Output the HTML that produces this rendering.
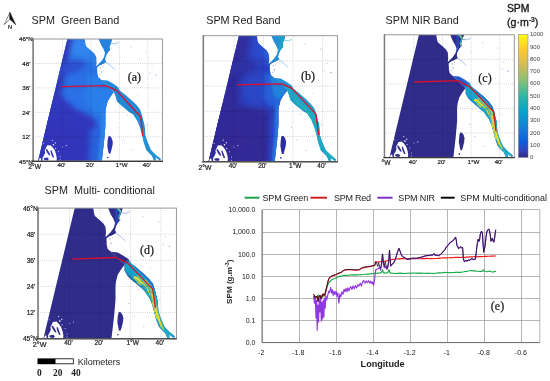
<!DOCTYPE html>
<html lang="en"><head><meta charset="utf-8"><title>SPM maps</title>
<style>
html,body{margin:0;padding:0;background:#fff;}
body{width:550px;height:381px;overflow:hidden;font-family:"Liberation Sans",Arial,sans-serif;}
svg{display:block;}
text{font-family:"Liberation Sans",Arial,sans-serif;fill:#222;}
.ttl{font-size:10.8px;fill:#222;}
.tk{fill:#1a1a1a;stroke:#1a1a1a;stroke-width:.2;}
.gl{stroke:#000;stroke-opacity:.42;stroke-width:.55;stroke-dasharray:.7 1.4;}
.lab{font-family:"Liberation Serif","DejaVu Serif",serif;font-size:12px;fill:#111;stroke:#111;stroke-width:.2;}
.cb{font-size:6px;fill:#444;}
.cg{stroke:#969696;stroke-width:.7;}
.ax{font-size:7px;fill:#161616;}
.lg{font-size:9px;fill:#222;}
</style></head><body>
<svg width="550" height="381" viewBox="0 0 550 381">
<defs>
<filter id="b05" x="-20%" y="-20%" width="140%" height="140%"><feGaussianBlur stdDeviation="0.4"/></filter>
<filter id="b1" x="-20%" y="-20%" width="140%" height="140%"><feGaussianBlur stdDeviation="0.8"/></filter>
<filter id="b3" x="-50%" y="-50%" width="200%" height="200%"><feGaussianBlur stdDeviation="2.5"/></filter>
<filter id="b4" x="-50%" y="-50%" width="200%" height="200%"><feGaussianBlur stdDeviation="4"/></filter>
<filter id="b5" x="-50%" y="-50%" width="200%" height="200%"><feGaussianBlur stdDeviation="5.5"/></filter>
<linearGradient id="parula" x1="0" y1="1" x2="0" y2="0">
<stop offset="0" stop-color="#352a87"/><stop offset=".06" stop-color="#3145bc"/><stop offset=".125" stop-color="#0f5cdd"/>
<stop offset=".25" stop-color="#1481d6"/><stop offset=".375" stop-color="#06a4ca"/><stop offset=".5" stop-color="#2eb7a4"/>
<stop offset=".625" stop-color="#87bf77"/><stop offset=".75" stop-color="#d1bb59"/><stop offset=".875" stop-color="#fec832"/>
<stop offset="1" stop-color="#f9fb0e"/></linearGradient>
</defs>
<rect width="550" height="381" fill="#fff"/>
<g id="north">
<path d="M9.9 12.6 L4.2 24.6 L9.9 19.3 Z" fill="#fff" stroke="#222" stroke-width=".55" stroke-linejoin="miter"/>
<path d="M9.9 12.4 L15.8 24.7 L9.9 19.3 Z" fill="#111" stroke="#111" stroke-width=".5"/>
<text x="9.9" y="29.1" font-size="5.6" text-anchor="middle" fill="#222" stroke="#222" stroke-width=".2">N</text>
</g>
<text x="31.6" y="24.3" class="ttl" xml:space="preserve" style="white-space:pre">SPM  Green Band</text>
<text x="206.2" y="24.3" class="ttl">SPM Red Band</text>
<text x="385.6" y="24.3" class="ttl">SPM NIR Band</text>
<text x="44.6" y="193.8" class="ttl" xml:space="preserve" style="white-space:pre">SPM  Multi- conditional</text>
<g id="map-a">
<clipPath id="oc-a"><path d="M67.4 39.0 L111.9 39.0 L111.9 40.0 L110.9 43.0 L109.4 46.9 L109.9 49.9 L107.4 52.8 L105.5 56.7 L105.0 59.7 L106.0 62.1 L102.5 64.1 L99.1 65.6 L97.1 67.5 L97.3 73.5 L98.2 77.3 L101.3 79.9 L113.9 92.0 L110.8 96.2 L107.6 101.4 L106.0 107.7 L105.5 112.0 L105.5 125.0 L104.2 140.0 L101.8 161.0 L38.1 161.0Z"/></clipPath>
<clipPath id="fr-a"><rect x="33.0" y="39.0" width="129.4" height="122.0"/></clipPath>
<rect x="33.0" y="39.0" width="129.4" height="122.0" fill="#fff"/>
<g clip-path="url(#fr-a)">
<g clip-path="url(#oc-a)">
<rect x="33.0" y="39.0" width="129.4" height="122.0" fill="#2b70e6"/>
<path d="M64.0 36.0 L100.0 36.0 L100.0 62.0 L88.0 60.0 L75.0 58.0 L60.0 58.0Z" fill="#3284ee" opacity="1" filter="url(#b4)"/>
<path d="M67.0 36.0 L73.0 36.0 L64.0 80.0 L57.0 110.0 L30.0 165.0 L30.0 100.0Z" fill="#3238b6" opacity="1" filter="url(#b3)"/>
<path d="M60.0 62.0 L72.0 60.0 L84.0 61.0 L86.0 66.0 L76.0 72.0 L62.0 76.0 L56.0 78.0Z" fill="#2f4ccc" opacity="0.9" filter="url(#b3)"/>
<path d="M40.0 95.0 L60.0 95.0 L75.7 109.0 L91.5 116.5 L97.0 124.0 L96.0 135.0 L93.0 165.0 L30.0 165.0Z" fill="#3038be" opacity="1" filter="url(#b3)"/>
<path d="M40.0 116.0 L66.0 118.0 L84.0 130.0 L84.0 165.0 L34.0 165.0Z" fill="#3034b8" opacity="0.8" filter="url(#b4)"/>
<path d="M90.0 128.0 L106.0 126.0 L106.0 165.0 L88.0 165.0Z" fill="#2c62dc" opacity="0.9" filter="url(#b3)"/>
<path d="M100.5 100.0 L107.0 100.0 L107.0 125.0 L104.0 165.0 L97.5 165.0 L100.5 130.0Z" fill="#2a86e6" opacity="0.95" filter="url(#b1)"/>
<path d="M88.0 74.0 L104.0 76.0 L114.0 92.0 L106.0 110.0 L96.0 116.0 L84.0 100.0Z" fill="#2c80ea" opacity="0.95" filter="url(#b3)"/>
<path d="M94.0 40.0 L100.0 40.0 L100.0 66.0 L96.0 70.0 L92.0 56.0Z" fill="#2c84ea" opacity="0.8" filter="url(#b3)"/>
</g>
<clipPath id="pt-a"><path d="M98.6 39.0 L111.9 39.0 L111.9 40.0 L110.9 43.0 L109.4 46.9 L109.9 49.9 L107.4 52.8 L105.5 56.7 L105.0 59.7 L106.0 62.1 L102.5 64.1 L99.1 65.6 L96.2 66.4 L98.1 64.4 L101.1 61.4 L104.0 57.2 L105.0 52.8 L103.5 48.9 L101.1 44.9Z"/></clipPath>
<path d="M98.6 39.0 L111.9 39.0 L111.9 40.0 L110.9 43.0 L109.4 46.9 L109.9 49.9 L107.4 52.8 L105.5 56.7 L105.0 59.7 L106.0 62.1 L102.5 64.1 L99.1 65.6 L96.2 66.4 L98.1 64.4 L101.1 61.4 L104.0 57.2 L105.0 52.8 L103.5 48.9 L101.1 44.9Z" fill="#2482de"/>
<path d="M110.9 43.4 L114.8 44.0 L118.7 42.5" fill="none" stroke="#5aa0e4" stroke-width=".7" opacity=".9"/>
<path d="M106.0 62.1 L110.9 66.1 L114.8 69.7" fill="none" stroke="#5aa0e4" stroke-width=".7" opacity=".8"/>
<path d="M84.7 39.0 L85.6 44.5 L86.3 46.4 L90.3 49.9 L94.2 53.3 L96.2 56.7 L96.6 61.6 L96.2 66.2 L98.1 64.4 L101.1 61.4 L104.0 57.2 L105.0 52.8 L103.5 48.9 L101.1 44.9 L98.6 39.0Z" fill="#fff"/>
<clipPath id="es-a"><path d="M101.3 79.9 L107.6 80.4 L112.9 83.6 L117.6 86.7 L119.7 90.4 L125.5 95.1 L131.8 100.4 L137.0 105.6 L140.2 109.8 L141.9 115.3 L144.6 125.4 L145.4 135.5 L147.5 142.0 L151.0 150.0 L156.0 155.0 L161.0 159.0 L160.0 160.6 L155.5 157.3 L156.0 160.5 L154.0 160.5 L152.0 156.0 L146.3 150.0 L143.6 142.0 L142.3 135.5 L140.3 128.3 L137.4 121.0 L133.0 114.2 L129.0 112.0 L126.5 109.8 L121.3 105.6 L117.0 101.4 L115.5 96.2 L113.9 92.0Z"/></clipPath>
<path d="M101.3 79.9 L107.6 80.4 L112.9 83.6 L117.6 86.7 L119.7 90.4 L125.5 95.1 L131.8 100.4 L137.0 105.6 L140.2 109.8 L141.9 115.3 L144.6 125.4 L145.4 135.5 L147.5 142.0 L151.0 150.0 L156.0 155.0 L161.0 159.0 L160.0 160.6 L155.5 157.3 L156.0 160.5 L154.0 160.5 L152.0 156.0 L146.3 150.0 L143.6 142.0 L142.3 135.5 L140.3 128.3 L137.4 121.0 L133.0 114.2 L129.0 112.0 L126.5 109.8 L121.3 105.6 L117.0 101.4 L115.5 96.2 L113.9 92.0Z" fill="#2388d6"/>
<g clip-path="url(#es-a)">
<path d="M136.5 113.0 L139.5 119.5 L141.6 127.0 L143.6 135.5 L145.6 142.0 L148.6 150.0 L154.0 155.5 L159.5 159.5" fill="none" stroke="#27a0da" stroke-width="2.2" stroke-linecap="round" stroke-linejoin="round" opacity="0.8" filter="url(#b1)"/>
<path d="M111.5 84.5 L118.2 89.7 L122.8 95.3 L128.2 100.7 L133.8 105.8 L138.6 111.7 L141.8 118.5" fill="none" stroke="#2a94de" stroke-width="1.2" stroke-linecap="round" stroke-linejoin="round" opacity="0.7" filter="url(#b05)"/>
</g>
<path d="M108.8 136.0 L110.6 136.6 L112.0 139.0 L112.8 142.0 L112.4 146.0 L111.4 150.0 L110.4 153.6 L108.8 153.8 L108.0 150.0 L107.3 146.0 L107.6 141.0 L108.0 138.0Z" fill="#2c32b4"/>
<circle cx="107.7" cy="157.5" r=".8" fill="#2c32b4"/>
<path d="M47.0 145.6 L50.4 145.2 L52.7 147.5 L54.9 150.6 L56.1 154.4 L56.8 158.2 L56.5 161.1 L42.8 161.1 L42.4 158.2 L43.9 155.5 L45.1 152.9 L44.7 150.2 L46.2 147.5Z M45.5 149.4 L47.0 149.1 L49.3 152.5 L50.4 155.5 L48.9 155.2 L47.0 152.5Z M50.4 150.6 L51.5 150.2 L52.7 153.6 L54.2 157.5 L52.7 157.5 L51.1 154.0Z M43.6 158.2 L47.4 157.5 L48.9 159.0 L47.7 160.5 L44.3 160.1Z" fill="#fff" fill-rule="evenodd"/>
<path d="M39.4 158.4 L40.8 158.0 L41.4 160.9 L38.8 160.9Z" fill="#fff"/>
<path d="M52.6 144.2 L53.8 144.0 L54.4 145.2 L53.2 145.6Z" fill="#fff"/>
<circle cx="52.3" cy="140.3" r="0.6" fill="#fff" opacity=".85"/>
<circle cx="55.3" cy="142.9" r="0.7" fill="#fff" opacity=".85"/>
<circle cx="66.3" cy="145.6" r="0.6" fill="#fff" opacity=".85"/>
<circle cx="62.5" cy="146.8" r="0.5" fill="#fff" opacity=".85"/>
<circle cx="55.6" cy="148.3" r="0.6" fill="#fff" opacity=".85"/>
<circle cx="60.2" cy="156.7" r="0.5" fill="#fff" opacity=".85"/>
<circle cx="60.2" cy="159.7" r="0.5" fill="#fff" opacity=".85"/>
<circle cx="43.5" cy="143.4" r="0.5" fill="#fff" opacity=".85"/>
<circle cx="58.4" cy="151.6" r="0.5" fill="#fff" opacity=".85"/>
<circle cx="100.5" cy="68.0" r="0.7" fill="#6a8ae0" opacity=".7"/>
<circle cx="101.5" cy="72.0" r="0.7" fill="#6a8ae0" opacity=".7"/>
<circle cx="99.8" cy="74.5" r="0.5" fill="#6a8ae0" opacity=".7"/>
<circle cx="103.0" cy="66.5" r="0.5" fill="#6a8ae0" opacity=".7"/>
<circle cx="131.0" cy="47.0" r="0.5" fill="#6a8ae0" opacity=".7"/>
<circle cx="146.0" cy="52.0" r="0.5" fill="#6a8ae0" opacity=".7"/>
<circle cx="152.0" cy="66.0" r="0.5" fill="#6a8ae0" opacity=".7"/>
<circle cx="156.0" cy="75.0" r="0.7" fill="#6a8ae0" opacity=".7"/>
<circle cx="150.0" cy="73.0" r="0.5" fill="#6a8ae0" opacity=".7"/>
<circle cx="120.0" cy="57.0" r="0.4" fill="#6a8ae0" opacity=".7"/>
<circle cx="127.0" cy="115.0" r="0.5" fill="#6a8ae0" opacity=".7"/>
<circle cx="118.0" cy="128.0" r="0.5" fill="#6a8ae0" opacity=".7"/>
<circle cx="123.0" cy="140.0" r="0.5" fill="#6a8ae0" opacity=".7"/>
<circle cx="132.0" cy="150.0" r="0.5" fill="#6a8ae0" opacity=".7"/>
<circle cx="116.0" cy="110.0" r="0.4" fill="#6a8ae0" opacity=".7"/>
<circle cx="147.0" cy="125.0" r="0.5" fill="#6a8ae0" opacity=".7"/>
<circle cx="150.0" cy="118.0" r="0.4" fill="#6a8ae0" opacity=".7"/>
<circle cx="138.0" cy="95.0" r="0.4" fill="#6a8ae0" opacity=".7"/>
<circle cx="144.0" cy="82.0" r="0.4" fill="#6a8ae0" opacity=".7"/>
</g>
<line x1="62.5" y1="39.0" x2="62.5" y2="161.0" class="gl"/>
<line x1="91.0" y1="39.0" x2="91.0" y2="161.0" class="gl"/>
<line x1="119.4" y1="39.0" x2="119.4" y2="161.0" class="gl"/>
<line x1="147.8" y1="39.0" x2="147.8" y2="161.0" class="gl"/>
<line x1="33.0" y1="63.5" x2="162.4" y2="63.5" class="gl"/>
<line x1="33.0" y1="87.9" x2="162.4" y2="87.9" class="gl"/>
<line x1="33.0" y1="112.3" x2="162.4" y2="112.3" class="gl"/>
<line x1="33.0" y1="136.8" x2="162.4" y2="136.8" class="gl"/>
<path d="M61.3 86.7 L105.5 85.7 L116.5 90.4 L140.8 117.0 L142.7 136.3" fill="none" stroke="#d8102e" stroke-width="1.3" stroke-linejoin="round"/>
<rect x="33.0" y="39.0" width="129.4" height="122.0" fill="none" stroke="#8c8c8c" stroke-width=".9"/>
<line x1="33.2" y1="38.5" x2="33.2" y2="161.8" stroke="#7c7c7c" stroke-width="1.4"/>
<line x1="32.1" y1="161.3" x2="162.9" y2="161.3" stroke="#3a3a3a" stroke-width="1.2"/>
<text x="32.8" y="41.2" class="tk" font-size="6.2" text-anchor="end">46°N</text>
<text x="30.4" y="65.7" class="tk" font-size="6.2" text-anchor="end">48'</text>
<text x="30.4" y="90.1" class="tk" font-size="6.2" text-anchor="end">36'</text>
<text x="30.4" y="114.6" class="tk" font-size="6.2" text-anchor="end">24'</text>
<text x="30.4" y="139.0" class="tk" font-size="6.2" text-anchor="end">12'</text>
<text x="32.8" y="163.5" class="tk" font-size="6.2" text-anchor="end">45°N</text>
<text x="34.7" y="168.7" class="tk" font-size="6.7" text-anchor="middle">2°W</text>
<text x="61.5" y="167.2" class="tk" font-size="6.2" text-anchor="middle">40'</text>
<text x="90.0" y="167.2" class="tk" font-size="6.2" text-anchor="middle">20'</text>
<text x="121.7" y="167.2" class="tk" font-size="6.2" text-anchor="middle">1°W</text>
<text x="146.8" y="167.2" class="tk" font-size="6.2" text-anchor="middle">40'</text>
</g>
<g id="map-b">
<clipPath id="oc-b"><path d="M238.9 35.7 L285.1 35.7 L285.1 36.7 L284.1 39.8 L282.6 43.8 L283.1 46.9 L280.5 49.9 L278.5 54.0 L278.0 57.0 L279.0 59.5 L275.4 61.6 L271.9 63.1 L269.8 65.1 L270.0 71.3 L270.9 75.2 L274.1 77.9 L287.2 90.4 L284.0 94.7 L280.7 100.0 L279.0 106.5 L278.5 111.0 L278.5 124.4 L277.2 139.8 L274.7 161.5 L208.5 161.5Z"/></clipPath>
<clipPath id="fr-b"><rect x="203.2" y="35.7" width="134.4" height="125.8"/></clipPath>
<rect x="203.2" y="35.7" width="134.4" height="125.8" fill="#fff"/>
<g clip-path="url(#fr-b)">
<g clip-path="url(#oc-b)">
<rect x="203.2" y="35.7" width="134.4" height="125.8" fill="#2c40bc"/>
<path d="M239.6 32.6 L272.8 32.6 L272.8 59.4 L260.3 59.4 L246.8 57.4 L235.4 57.4Z" fill="#2c4ccc" opacity="1" filter="url(#b4)"/>
<path d="M238.5 32.6 L252.0 32.6 L243.7 78.0 L239.6 108.9 L200.1 165.6 L200.1 98.6Z" fill="#302c9a" opacity="1" filter="url(#b4)"/>
<path d="M227.1 61.5 L243.7 60.4 L254.1 62.5 L256.2 67.7 L247.9 72.8 L233.3 75.9 L222.9 78.0Z" fill="#2f30a4" opacity="0.95" filter="url(#b3)"/>
<path d="M241.6 78.0 L262.4 75.9 L272.8 80.0 L272.8 102.7 L256.2 104.8 L241.6 98.6Z" fill="#2b4ac8" opacity="0.9" filter="url(#b4)"/>
<path d="M210.5 106.8 L226.1 104.8 L249.4 106.8 L268.6 111.0 L271.8 134.7 L269.7 165.6 L200.1 165.6Z" fill="#302c98" opacity="1" filter="url(#b3)"/>
<path d="M210.5 119.2 L241.6 117.2 L264.5 125.4 L264.5 165.6 L204.2 165.6Z" fill="#302b96" opacity="0.9" filter="url(#b4)"/>
<path d="M269.7 119.2 L279.0 117.2 L279.0 165.6 L268.6 165.6Z" fill="#2b46c4" opacity="0.9" filter="url(#b3)"/>
<path d="M274.7 98.6 L280.1 98.6 L280.1 124.4 L276.9 165.6 L271.8 165.6 L274.7 129.5Z" fill="#2878e0" opacity="0.95" filter="url(#b1)"/>
<path d="M265.5 71.8 L276.9 73.9 L287.3 90.4 L279.0 104.8 L270.7 106.8 L263.4 96.5Z" fill="#2664da" opacity="0.95" filter="url(#b3)"/>
<path d="M269.7 73.9 L276.9 75.9 L287.3 90.4 L280.1 99.6 L273.8 96.5Z" fill="#2288dc" opacity="0.9" filter="url(#b1)"/>
<path d="M264.5 36.7 L272.8 36.7 L272.8 63.5 L268.6 67.7 L263.4 53.2Z" fill="#2a64dc" opacity="0.9" filter="url(#b3)"/>
</g>
<clipPath id="pt-b"><path d="M271.3 35.7 L285.1 35.7 L285.1 36.7 L284.1 39.8 L282.6 43.8 L283.1 46.9 L280.5 49.9 L278.5 54.0 L278.0 57.0 L279.0 59.5 L275.4 61.6 L271.9 63.1 L268.8 64.0 L270.8 61.9 L273.9 58.8 L276.9 54.5 L278.0 49.9 L276.4 45.9 L273.9 41.8Z"/></clipPath>
<path d="M271.3 35.7 L285.1 35.7 L285.1 36.7 L284.1 39.8 L282.6 43.8 L283.1 46.9 L280.5 49.9 L278.5 54.0 L278.0 57.0 L279.0 59.5 L275.4 61.6 L271.9 63.1 L268.8 64.0 L270.8 61.9 L273.9 58.8 L276.9 54.5 L278.0 49.9 L276.4 45.9 L273.9 41.8Z" fill="#2290d4"/>
<g clip-path="url(#pt-b)">
<path d="M281.1 35.7 L283.2 39.8 L281.7 43.9 L281.9 47.0 L279.4 50.7" fill="none" stroke="#1fa6c6" stroke-width="4.5" stroke-linecap="round" stroke-linejoin="round" opacity="0.95" filter="url(#b1)"/>
</g>
<path d="M284.1 40.2 L288.2 40.9 L292.2 39.3" fill="none" stroke="#4cb4d4" stroke-width=".7" opacity=".9"/>
<path d="M279.0 59.5 L284.1 63.6 L288.2 67.4" fill="none" stroke="#4cb4d4" stroke-width=".7" opacity=".8"/>
<path d="M256.9 35.7 L257.8 41.4 L258.6 43.3 L262.7 46.9 L266.8 50.4 L268.8 54.0 L269.3 59.0 L268.8 63.7 L270.8 61.9 L273.9 58.8 L276.9 54.5 L278.0 49.9 L276.4 45.9 L273.9 41.8 L271.3 35.7Z" fill="#fff"/>
<clipPath id="es-b"><path d="M274.1 77.9 L280.7 78.4 L286.2 81.7 L291.1 84.9 L293.3 88.7 L299.3 93.5 L305.8 99.0 L311.2 104.4 L314.5 108.7 L316.3 114.4 L319.1 124.8 L319.9 135.2 L322.1 141.9 L325.8 150.2 L331.0 155.3 L336.1 159.4 L335.1 161.1 L330.4 157.7 L331.0 161.0 L328.9 161.0 L326.8 156.3 L320.9 150.2 L318.1 141.9 L316.7 135.2 L314.6 127.8 L311.6 120.3 L307.1 113.2 L302.9 111.0 L300.3 108.7 L294.9 104.4 L290.4 100.0 L288.9 94.7 L287.2 90.4Z"/></clipPath>
<path d="M274.1 77.9 L280.7 78.4 L286.2 81.7 L291.1 84.9 L293.3 88.7 L299.3 93.5 L305.8 99.0 L311.2 104.4 L314.5 108.7 L316.3 114.4 L319.1 124.8 L319.9 135.2 L322.1 141.9 L325.8 150.2 L331.0 155.3 L336.1 159.4 L335.1 161.1 L330.4 157.7 L331.0 161.0 L328.9 161.0 L326.8 156.3 L320.9 150.2 L318.1 141.9 L316.7 135.2 L314.6 127.8 L311.6 120.3 L307.1 113.2 L302.9 111.0 L300.3 108.7 L294.9 104.4 L290.4 100.0 L288.9 94.7 L287.2 90.4Z" fill="#2390d6"/>
<g clip-path="url(#es-b)">
<path d="M289.9 89.8 L294.6 95.5 L300.3 101.2 L306.0 106.3 L310.7 112.0 L313.8 118.7 L316.0 126.4 L318.1 135.2 L320.2 141.9 L323.3 150.2 L328.9 155.8 L334.6 160.0" fill="none" stroke="#21a4c6" stroke-width="12.0" stroke-linecap="round" stroke-linejoin="round" opacity="0.95" filter="url(#b1)"/>
<path d="M306.0 106.3 L310.7 112.0 L313.8 118.7 L316.0 126.4 L318.1 135.2 L320.2 141.9 L323.3 150.2 L328.9 155.8 L334.6 160.0" fill="none" stroke="#22b0bc" stroke-width="3.0" stroke-linecap="round" stroke-linejoin="round" opacity="0.9" filter="url(#b1)"/>
<path d="M292.8 97.3 L298.5 103.0 L304.1 108.1 L308.5 113.4 L311.5 119.8" fill="none" stroke="#2cb8b4" stroke-width="1.4" stroke-linecap="round" stroke-linejoin="round" opacity="0.9" filter="url(#b05)"/>
</g>
<path d="M281.9 135.7 L283.8 136.3 L285.3 138.8 L286.1 141.9 L285.7 146.0 L284.6 150.2 L283.6 153.9 L281.9 154.1 L281.1 150.2 L280.4 146.0 L280.7 140.9 L281.1 137.8Z" fill="#2b2ca4"/>
<circle cx="280.8" cy="157.9" r=".8" fill="#2b2ca4"/>
<path d="M217.7 145.6 L221.3 145.2 L223.7 147.6 L225.9 150.8 L227.2 154.7 L227.9 158.6 L227.6 161.6 L213.4 161.6 L213.0 158.6 L214.5 155.8 L215.8 153.1 L215.4 150.4 L216.9 147.6Z M216.2 149.5 L217.7 149.2 L220.1 152.7 L221.3 155.8 L219.7 155.5 L217.7 152.7Z M221.3 150.8 L222.4 150.4 L223.7 153.9 L225.2 157.9 L223.7 157.9 L222.0 154.3Z M214.2 158.6 L218.2 157.9 L219.7 159.4 L218.5 161.0 L214.9 160.6Z" fill="#fff" fill-rule="evenodd"/>
<path d="M209.8 158.8 L211.3 158.4 L211.9 161.4 L209.2 161.4Z" fill="#fff"/>
<path d="M223.6 144.2 L224.8 144.0 L225.4 145.2 L224.2 145.6Z" fill="#fff"/>
<circle cx="223.2" cy="140.2" r="0.6" fill="#fff" opacity=".85"/>
<circle cx="226.4" cy="142.8" r="0.7" fill="#fff" opacity=".85"/>
<circle cx="237.8" cy="145.6" r="0.6" fill="#fff" opacity=".85"/>
<circle cx="233.8" cy="146.9" r="0.5" fill="#fff" opacity=".85"/>
<circle cx="226.7" cy="148.4" r="0.6" fill="#fff" opacity=".85"/>
<circle cx="231.5" cy="157.1" r="0.5" fill="#fff" opacity=".85"/>
<circle cx="231.5" cy="160.2" r="0.5" fill="#fff" opacity=".85"/>
<circle cx="214.1" cy="143.4" r="0.5" fill="#fff" opacity=".85"/>
<circle cx="229.6" cy="151.8" r="0.5" fill="#fff" opacity=".85"/>
<circle cx="273.3" cy="65.6" r="0.7" fill="#5a78d8" opacity=".7"/>
<circle cx="274.3" cy="69.7" r="0.7" fill="#5a78d8" opacity=".7"/>
<circle cx="272.6" cy="72.3" r="0.5" fill="#5a78d8" opacity=".7"/>
<circle cx="275.9" cy="64.1" r="0.5" fill="#5a78d8" opacity=".7"/>
<circle cx="305.0" cy="43.9" r="0.5" fill="#5a78d8" opacity=".7"/>
<circle cx="320.6" cy="49.1" r="0.5" fill="#5a78d8" opacity=".7"/>
<circle cx="326.8" cy="63.5" r="0.5" fill="#5a78d8" opacity=".7"/>
<circle cx="331.0" cy="72.8" r="0.7" fill="#5a78d8" opacity=".7"/>
<circle cx="324.7" cy="70.8" r="0.5" fill="#5a78d8" opacity=".7"/>
<circle cx="293.6" cy="54.3" r="0.4" fill="#5a78d8" opacity=".7"/>
<circle cx="300.8" cy="114.1" r="0.5" fill="#5a78d8" opacity=".7"/>
<circle cx="291.5" cy="127.5" r="0.5" fill="#5a78d8" opacity=".7"/>
<circle cx="296.7" cy="139.8" r="0.5" fill="#5a78d8" opacity=".7"/>
<circle cx="306.0" cy="150.2" r="0.5" fill="#5a78d8" opacity=".7"/>
<circle cx="289.4" cy="108.9" r="0.4" fill="#5a78d8" opacity=".7"/>
<circle cx="321.6" cy="124.4" r="0.5" fill="#5a78d8" opacity=".7"/>
<circle cx="324.7" cy="117.2" r="0.4" fill="#5a78d8" opacity=".7"/>
<circle cx="312.3" cy="93.4" r="0.4" fill="#5a78d8" opacity=".7"/>
<circle cx="318.5" cy="80.0" r="0.4" fill="#5a78d8" opacity=".7"/>
</g>
<line x1="233.8" y1="35.7" x2="233.8" y2="161.5" class="gl"/>
<line x1="263.4" y1="35.7" x2="263.4" y2="161.5" class="gl"/>
<line x1="292.9" y1="35.7" x2="292.9" y2="161.5" class="gl"/>
<line x1="322.5" y1="35.7" x2="322.5" y2="161.5" class="gl"/>
<line x1="203.2" y1="60.9" x2="337.6" y2="60.9" class="gl"/>
<line x1="203.2" y1="86.1" x2="337.6" y2="86.1" class="gl"/>
<line x1="203.2" y1="111.3" x2="337.6" y2="111.3" class="gl"/>
<line x1="203.2" y1="136.5" x2="337.6" y2="136.5" class="gl"/>
<path d="M237.0 84.9 L281.9 83.8 L292.0 88.4 L315.9 114.1 L318.7 135.2" fill="none" stroke="#d8102e" stroke-width="1.3" stroke-linejoin="round"/>
<rect x="203.2" y="35.7" width="134.4" height="125.8" fill="none" stroke="#8c8c8c" stroke-width=".9"/>
<line x1="203.4" y1="35.2" x2="203.4" y2="162.3" stroke="#7c7c7c" stroke-width="1.4"/>
<line x1="202.3" y1="161.8" x2="338.1" y2="161.8" stroke="#3a3a3a" stroke-width="1.2"/>
<text x="205.0" y="169.5" class="tk" font-size="6.9" text-anchor="middle">2°W</text>
<text x="232.8" y="167.9" class="tk" font-size="6.4" text-anchor="middle">40'</text>
<text x="262.4" y="167.9" class="tk" font-size="6.4" text-anchor="middle">20'</text>
<text x="295.2" y="167.9" class="tk" font-size="6.4" text-anchor="middle">1°W</text>
<text x="321.5" y="167.9" class="tk" font-size="6.4" text-anchor="middle">40'</text>
</g>
<g id="map-c">
<clipPath id="oc-c"><path d="M418.9 34.8 L463.6 34.8 L463.6 35.8 L462.6 38.8 L461.1 42.7 L461.6 45.8 L459.0 48.7 L457.1 52.6 L456.6 55.6 L457.6 58.0 L454.1 60.0 L450.7 61.5 L448.7 63.4 L448.9 69.5 L449.8 73.3 L452.9 75.9 L465.6 88.1 L462.5 92.3 L459.2 97.5 L457.6 103.8 L457.1 108.2 L457.1 121.2 L455.8 136.3 L453.4 157.4 L389.4 157.4Z"/></clipPath>
<clipPath id="fr-c"><rect x="384.3" y="34.8" width="130.0" height="122.6"/></clipPath>
<rect x="384.3" y="34.8" width="130.0" height="122.6" fill="#fff"/>
<g clip-path="url(#fr-c)">
<g clip-path="url(#oc-c)">
<rect x="384.3" y="34.8" width="130.0" height="122.6" fill="#2f2c8a"/>
</g>
<clipPath id="pt-c"><path d="M450.2 34.8 L463.6 34.8 L463.6 35.8 L462.6 38.8 L461.1 42.7 L461.6 45.8 L459.0 48.7 L457.1 52.6 L456.6 55.6 L457.6 58.0 L454.1 60.0 L450.7 61.5 L447.8 62.3 L449.7 60.3 L452.7 57.3 L455.6 53.1 L456.6 48.7 L455.1 44.7 L452.7 40.7Z"/></clipPath>
<path d="M450.2 34.8 L463.6 34.8 L463.6 35.8 L462.6 38.8 L461.1 42.7 L461.6 45.8 L459.0 48.7 L457.1 52.6 L456.6 55.6 L457.6 58.0 L454.1 60.0 L450.7 61.5 L447.8 62.3 L449.7 60.3 L452.7 57.3 L455.6 53.1 L456.6 48.7 L455.1 44.7 L452.7 40.7Z" fill="#2f2c8a"/>
<g clip-path="url(#pt-c)">
<path d="M457.1 34.8 L458.6 38.8 L458.0 42.8 L458.4 46.9 L457.2 50.9" fill="none" stroke="#2a54cc" stroke-width="2.6" stroke-linecap="round" stroke-linejoin="round" opacity="0.9" filter="url(#b1)"/>
<path d="M459.2 35.2 L462.1 38.8 L460.5 42.7 L461.1 45.9" fill="none" stroke="#1ca8c8" stroke-width="1.8" stroke-linecap="round" stroke-linejoin="round" opacity="1" filter="url(#b05)"/>
<path d="M459.8 35.2 L462.3 38.2" fill="none" stroke="#8cc870" stroke-width="1.2" stroke-linecap="round" stroke-linejoin="round" opacity="1" filter="url(#b05)"/>
<path d="M461.0 43.4 L461.3 45.3" fill="none" stroke="#e8e030" stroke-width="1.1" stroke-linecap="round" stroke-linejoin="round" opacity="1"/>
</g>
<path d="M462.6 39.1 L464.7 39.7" fill="none" stroke="#c8d840" stroke-width="0.9" stroke-linecap="round" stroke-linejoin="round" opacity="1"/>
<path d="M462.6 39.2 L466.5 39.8 L470.4 38.3" fill="none" stroke="#6a8ee0" stroke-width=".7" opacity=".9"/>
<path d="M457.6 58.0 L462.6 62.0 L466.5 65.7" fill="none" stroke="#6a8ee0" stroke-width=".7" opacity=".8"/>
<path d="M436.2 34.8 L437.1 40.3 L437.8 42.2 L441.9 45.8 L445.8 49.2 L447.8 52.6 L448.2 57.5 L447.8 62.1 L449.7 60.3 L452.7 57.3 L455.6 53.1 L456.6 48.7 L455.1 44.7 L452.7 40.7 L450.2 34.8Z" fill="#fff"/>
<clipPath id="es-c"><path d="M452.9 75.9 L459.2 76.4 L464.6 79.6 L469.3 82.7 L471.4 86.5 L477.2 91.2 L483.6 96.5 L488.8 101.7 L492.2 105.9 L494.0 111.5 L496.6 121.6 L497.4 131.8 L499.5 138.3 L503.0 146.3 L507.9 151.4 L512.9 155.4 L511.9 157.0 L507.4 153.7 L507.9 156.9 L505.9 156.9 L503.9 152.4 L497.9 146.3 L495.0 138.3 L493.4 131.8 L491.4 124.8 L489.0 119.2 L484.0 112.2 L479.7 108.6 L476.4 105.7 L472.1 102.1 L468.5 98.7 L465.7 93.7 L465.6 88.1Z"/></clipPath>
<path d="M452.9 75.9 L459.2 76.4 L464.6 79.6 L469.3 82.7 L471.4 86.5 L477.2 91.2 L483.6 96.5 L488.8 101.7 L492.2 105.9 L494.0 111.5 L496.6 121.6 L497.4 131.8 L499.5 138.3 L503.0 146.3 L507.9 151.4 L512.9 155.4 L511.9 157.0 L507.4 153.7 L507.9 156.9 L505.9 156.9 L503.9 152.4 L497.9 146.3 L495.0 138.3 L493.4 131.8 L491.4 124.8 L489.0 119.2 L484.0 112.2 L479.7 108.6 L476.4 105.7 L472.1 102.1 L468.5 98.7 L465.7 93.7 L465.6 88.1Z" fill="#2458cc"/>
<g clip-path="url(#es-c)">
<path d="M457.6 75.5 L463.8 79.6 L470.7 84.9 L475.5 90.8" fill="none" stroke="#2a9cd8" stroke-width="1.0" stroke-linecap="round" stroke-linejoin="round" opacity="0.8" filter="url(#b05)"/>
<path d="M459.3 85.6 L465.6 90.3 L469.8 95.5" fill="none" stroke="#2a9cd8" stroke-width="1.0" stroke-linecap="round" stroke-linejoin="round" opacity="0.7" filter="url(#b05)"/>
<path d="M470.4 90.3 L472.7 93.1 L478.2 98.6 L483.8 103.6 L488.3 109.2 L491.3 115.7 L493.4 123.2 L495.4 131.8 L497.4 138.3 L500.4 146.3 L505.9 151.9 L511.4 155.9" fill="none" stroke="#19a4c8" stroke-width="13.0" stroke-linecap="round" stroke-linejoin="round" opacity="1" filter="url(#b1)"/>
<path d="M476.0 89.8 L481.4 95.3 L487.1 100.4 L492.2 106.7 L495.5 113.8" fill="none" stroke="#2468d4" stroke-width="2.2" stroke-linecap="round" stroke-linejoin="round" opacity="0.9" filter="url(#b05)"/>
<path d="M475.2 100.1 L478.2 102.6 L481.2 105.3" fill="none" stroke="#f2e41c" stroke-width="2.6" stroke-linecap="round" stroke-linejoin="round" opacity="1" filter="url(#b05)"/>
<path d="M477.7 104.3 L480.7 107.0" fill="none" stroke="#b4c860" stroke-width="1.4" stroke-linecap="round" stroke-linejoin="round" opacity="0.9" filter="url(#b05)"/>
<path d="M478.4 98.5 L483.9 103.5 L488.5 109.1 L491.5 115.6" fill="none" stroke="#6cc088" stroke-width="2.4" stroke-linecap="round" stroke-linejoin="round" opacity="0.95" filter="url(#b05)"/>
<path d="M477.0 100.0 L482.4 104.9 L486.7 110.1 L489.7 116.5" fill="none" stroke="#e8dc28" stroke-width="1.2" stroke-linecap="round" stroke-linejoin="round" opacity="1" stroke-dasharray="5 2"/>
<path d="M485.2 102.5 L489.8 108.2 L492.9 114.9" fill="none" stroke="#f4d02c" stroke-width="1.1" stroke-linecap="round" stroke-linejoin="round" opacity="1" stroke-dasharray="6 1.5"/>
<path d="M475.9 101.1 L481.3 106.0 L485.6 111.3" fill="none" stroke="#38b8b0" stroke-width="1.0" stroke-linecap="round" stroke-linejoin="round" opacity="0.9"/>
<path d="M491.3 115.7 L493.4 123.2 L495.4 131.8 L497.4 138.3" fill="none" stroke="#58c098" stroke-width="4.2" stroke-linecap="round" stroke-linejoin="round" opacity="0.95" filter="url(#b05)"/>
<path d="M491.5 115.6 L493.6 123.2 L495.6 131.7" fill="none" stroke="#f6c634" stroke-width="2.0" stroke-linecap="round" stroke-linejoin="round" opacity="1" filter="url(#b05)"/>
<path d="M495.4 131.8 L497.4 138.3 L500.4 146.3" fill="none" stroke="#f0e224" stroke-width="1.9" stroke-linecap="round" stroke-linejoin="round" opacity="1" filter="url(#b05)"/>
<path d="M496.9 131.3 L498.8 137.8 L501.8 145.8" fill="none" stroke="#60c090" stroke-width="0.9" stroke-linecap="round" stroke-linejoin="round" opacity="0.9"/>
<path d="M491.8 123.6 L493.9 132.2 L495.9 138.8" fill="none" stroke="#f4e61c" stroke-width="0.9" stroke-linecap="round" stroke-linejoin="round" opacity="1" stroke-dasharray="4 2"/>
<path d="M501.4 147.4 L505.9 151.8 L511.7 155.8" fill="none" stroke="#22b0c0" stroke-width="1.5" stroke-linecap="round" stroke-linejoin="round" opacity="1"/>
<path d="M503.3 150.4 L505.3 153.4 L506.9 156.7" fill="none" stroke="#22b0c0" stroke-width="1.3" stroke-linecap="round" stroke-linejoin="round" opacity="1"/>
<path d="M500.0 145.3 L502.0 148.4" fill="none" stroke="#9cd060" stroke-width="1.6" stroke-linecap="round" stroke-linejoin="round" opacity="1" filter="url(#b05)"/>
</g>
<path d="M460.5 132.3 L462.3 132.9 L463.7 135.3 L464.5 138.3 L464.1 142.3 L463.1 146.3 L462.1 150.0 L460.5 150.2 L459.6 146.3 L458.9 142.3 L459.2 137.3 L459.6 134.3Z" fill="#2f2c8a"/>
<circle cx="459.3" cy="153.9" r=".8" fill="#2f2c8a"/>
<path d="M398.4 141.9 L401.8 141.5 L404.1 143.8 L406.3 146.9 L407.5 150.8 L408.2 154.6 L407.9 157.5 L394.1 157.5 L393.7 154.6 L395.3 151.9 L396.5 149.3 L396.1 146.5 L397.6 143.8Z M396.9 145.7 L398.4 145.4 L400.7 148.9 L401.8 151.9 L400.3 151.6 L398.4 148.9Z M401.8 146.9 L402.9 146.5 L404.1 150.0 L405.6 153.9 L404.1 153.9 L402.5 150.4Z M394.9 154.6 L398.8 153.9 L400.3 155.4 L399.1 156.9 L395.7 156.5Z" fill="#fff" fill-rule="evenodd"/>
<path d="M390.7 154.8 L392.1 154.4 L392.7 157.3 L390.1 157.3Z" fill="#fff"/>
<path d="M404.0 140.5 L405.2 140.3 L405.8 141.5 L404.6 141.9Z" fill="#fff"/>
<circle cx="403.7" cy="136.6" r="0.6" fill="#fff" opacity=".85"/>
<circle cx="406.7" cy="139.2" r="0.7" fill="#fff" opacity=".85"/>
<circle cx="417.8" cy="141.9" r="0.6" fill="#fff" opacity=".85"/>
<circle cx="413.9" cy="143.1" r="0.5" fill="#fff" opacity=".85"/>
<circle cx="407.0" cy="144.6" r="0.6" fill="#fff" opacity=".85"/>
<circle cx="411.6" cy="153.1" r="0.5" fill="#fff" opacity=".85"/>
<circle cx="411.6" cy="156.1" r="0.5" fill="#fff" opacity=".85"/>
<circle cx="394.8" cy="139.7" r="0.5" fill="#fff" opacity=".85"/>
<circle cx="409.8" cy="148.0" r="0.5" fill="#fff" opacity=".85"/>
<circle cx="452.1" cy="63.9" r="0.7" fill="#6a70d0" opacity=".7"/>
<circle cx="453.1" cy="68.0" r="0.7" fill="#6a70d0" opacity=".7"/>
<circle cx="451.4" cy="70.5" r="0.5" fill="#6a70d0" opacity=".7"/>
<circle cx="454.6" cy="62.4" r="0.5" fill="#6a70d0" opacity=".7"/>
<circle cx="482.8" cy="42.8" r="0.5" fill="#6a70d0" opacity=".7"/>
<circle cx="497.8" cy="47.9" r="0.5" fill="#6a70d0" opacity=".7"/>
<circle cx="503.9" cy="61.9" r="0.5" fill="#6a70d0" opacity=".7"/>
<circle cx="507.9" cy="71.0" r="0.7" fill="#6a70d0" opacity=".7"/>
<circle cx="501.8" cy="69.0" r="0.5" fill="#6a70d0" opacity=".7"/>
<circle cx="471.7" cy="52.9" r="0.4" fill="#6a70d0" opacity=".7"/>
<circle cx="478.7" cy="111.2" r="0.5" fill="#6a70d0" opacity=".7"/>
<circle cx="469.7" cy="124.2" r="0.5" fill="#6a70d0" opacity=".7"/>
<circle cx="474.7" cy="136.3" r="0.5" fill="#6a70d0" opacity=".7"/>
<circle cx="483.8" cy="146.3" r="0.5" fill="#6a70d0" opacity=".7"/>
<circle cx="467.7" cy="106.1" r="0.4" fill="#6a70d0" opacity=".7"/>
<circle cx="498.8" cy="121.2" r="0.5" fill="#6a70d0" opacity=".7"/>
<circle cx="501.8" cy="114.2" r="0.4" fill="#6a70d0" opacity=".7"/>
<circle cx="489.8" cy="91.1" r="0.4" fill="#6a70d0" opacity=".7"/>
<circle cx="495.8" cy="78.0" r="0.4" fill="#6a70d0" opacity=".7"/>
</g>
<line x1="413.9" y1="34.8" x2="413.9" y2="157.4" class="gl"/>
<line x1="442.5" y1="34.8" x2="442.5" y2="157.4" class="gl"/>
<line x1="471.1" y1="34.8" x2="471.1" y2="157.4" class="gl"/>
<line x1="499.7" y1="34.8" x2="499.7" y2="157.4" class="gl"/>
<line x1="384.3" y1="59.4" x2="514.3" y2="59.4" class="gl"/>
<line x1="384.3" y1="83.9" x2="514.3" y2="83.9" class="gl"/>
<line x1="384.3" y1="108.5" x2="514.3" y2="108.5" class="gl"/>
<line x1="384.3" y1="133.1" x2="514.3" y2="133.1" class="gl"/>
<path d="M414.2 82.0 L457.8 80.7 L469.8 86.8 L493.8 111.9 L496.0 131.5" fill="none" stroke="#d8102e" stroke-width="1.3" stroke-linejoin="round"/>
<rect x="384.3" y="34.8" width="130.0" height="122.6" fill="none" stroke="#8c8c8c" stroke-width=".9"/>
<line x1="384.5" y1="34.3" x2="384.5" y2="158.2" stroke="#7c7c7c" stroke-width="1.4"/>
<line x1="383.4" y1="157.7" x2="514.8" y2="157.7" stroke="#3a3a3a" stroke-width="1.2"/>
<text x="386.0" y="165.1" class="tk" font-size="6.7" text-anchor="middle">°W</text>
<text x="412.9" y="163.6" class="tk" font-size="6.2" text-anchor="middle">40'</text>
<text x="441.5" y="163.6" class="tk" font-size="6.2" text-anchor="middle">20'</text>
<text x="473.4" y="163.6" class="tk" font-size="6.2" text-anchor="middle">1°W</text>
<text x="498.7" y="163.6" class="tk" font-size="6.2" text-anchor="middle">40'</text>
</g>
<g id="map-d">
<clipPath id="oc-d"><path d="M74.7 208.1 L122.3 208.1 L122.3 209.2 L121.3 212.4 L119.7 216.5 L120.2 219.8 L117.5 222.9 L115.5 227.0 L115.0 230.2 L116.0 232.8 L112.3 234.9 L108.6 236.5 L106.5 238.6 L106.7 245.0 L107.7 249.0 L111.0 251.8 L124.5 264.7 L121.2 269.2 L117.7 274.8 L116.0 281.5 L115.5 286.1 L115.5 300.0 L114.1 316.1 L111.5 338.5 L43.4 338.5Z"/></clipPath>
<clipPath id="fr-d"><rect x="37.9" y="208.1" width="138.5" height="130.4"/></clipPath>
<rect x="37.9" y="208.1" width="138.5" height="130.4" fill="#fff"/>
<g clip-path="url(#fr-d)">
<g clip-path="url(#oc-d)">
<rect x="37.9" y="208.1" width="138.5" height="130.4" fill="#2f2c8a"/>
</g>
<clipPath id="pt-d"><path d="M108.1 208.1 L122.3 208.1 L122.3 209.2 L121.3 212.4 L119.7 216.5 L120.2 219.8 L117.5 222.9 L115.5 227.0 L115.0 230.2 L116.0 232.8 L112.3 234.9 L108.6 236.5 L105.5 237.4 L107.6 235.2 L110.8 232.0 L113.9 227.6 L115.0 222.9 L113.4 218.7 L110.8 214.4Z"/></clipPath>
<path d="M108.1 208.1 L122.3 208.1 L122.3 209.2 L121.3 212.4 L119.7 216.5 L120.2 219.8 L117.5 222.9 L115.5 227.0 L115.0 230.2 L116.0 232.8 L112.3 234.9 L108.6 236.5 L105.5 237.4 L107.6 235.2 L110.8 232.0 L113.9 227.6 L115.0 222.9 L113.4 218.7 L110.8 214.4Z" fill="#2f2c8a"/>
<g clip-path="url(#pt-d)">
<path d="M115.5 208.1 L117.1 212.4 L116.5 216.7 L116.9 220.9 L115.6 225.2" fill="none" stroke="#2a54cc" stroke-width="2.6" stroke-linecap="round" stroke-linejoin="round" opacity="0.9" filter="url(#b1)"/>
<path d="M117.7 208.5 L120.7 212.4 L119.0 216.5 L119.7 219.9" fill="none" stroke="#1ca8c8" stroke-width="1.8" stroke-linecap="round" stroke-linejoin="round" opacity="1" filter="url(#b05)"/>
<path d="M118.4 208.5 L121.0 211.7" fill="none" stroke="#8cc870" stroke-width="1.2" stroke-linecap="round" stroke-linejoin="round" opacity="1" filter="url(#b05)"/>
<path d="M119.6 217.3 L119.9 219.2" fill="none" stroke="#e8e030" stroke-width="1.1" stroke-linecap="round" stroke-linejoin="round" opacity="1"/>
</g>
<path d="M121.3 212.8 L125.5 213.4 L129.6 211.8" fill="none" stroke="#7a86d8" stroke-width=".7" opacity=".9"/>
<path d="M116.0 232.8 L121.3 237.1 L125.5 240.9" fill="none" stroke="#7a86d8" stroke-width=".7" opacity=".8"/>
<path d="M93.2 208.1 L94.2 214.0 L94.9 216.0 L99.2 219.8 L103.4 223.4 L105.5 227.0 L106.0 232.3 L105.5 237.2 L107.6 235.2 L110.8 232.0 L113.9 227.6 L115.0 222.9 L113.4 218.7 L110.8 214.4 L108.1 208.1Z" fill="#fff"/>
<clipPath id="es-d"><path d="M111.0 251.8 L117.7 252.4 L123.4 255.8 L128.4 259.1 L130.7 263.0 L136.9 268.1 L143.6 273.7 L149.2 279.3 L152.9 283.8 L154.8 289.7 L157.6 300.4 L158.4 311.2 L160.7 318.2 L164.4 326.7 L169.5 332.1 L174.9 336.4 L173.8 338.1 L169.0 334.5 L169.5 338.0 L167.4 338.0 L165.3 333.2 L159.0 326.7 L155.8 318.2 L154.1 311.2 L152.0 303.9 L149.4 297.9 L144.1 290.4 L139.6 286.6 L136.0 283.6 L131.4 279.7 L127.6 276.1 L124.6 270.7 L124.5 264.7Z"/></clipPath>
<path d="M111.0 251.8 L117.7 252.4 L123.4 255.8 L128.4 259.1 L130.7 263.0 L136.9 268.1 L143.6 273.7 L149.2 279.3 L152.9 283.8 L154.8 289.7 L157.6 300.4 L158.4 311.2 L160.7 318.2 L164.4 326.7 L169.5 332.1 L174.9 336.4 L173.8 338.1 L169.0 334.5 L169.5 338.0 L167.4 338.0 L165.3 333.2 L159.0 326.7 L155.8 318.2 L154.1 311.2 L152.0 303.9 L149.4 297.9 L144.1 290.4 L139.6 286.6 L136.0 283.6 L131.4 279.7 L127.6 276.1 L124.6 270.7 L124.5 264.7Z" fill="#2f2c8a"/>
<g clip-path="url(#es-d)">
<path d="M129.7 267.2 L132.1 270.1 L138.0 276.0 L143.9 281.3 L148.7 287.2 L151.9 294.1 L154.1 302.2 L156.3 311.2 L158.4 318.2 L161.6 326.7 L167.4 332.6 L173.3 336.9" fill="none" stroke="#19a4c8" stroke-width="13.0" stroke-linecap="round" stroke-linejoin="round" opacity="1" filter="url(#b1)"/>
<path d="M135.6 266.6 L141.4 272.4 L147.4 277.9 L152.9 284.6 L156.4 292.1" fill="none" stroke="#2468d4" stroke-width="2.2" stroke-linecap="round" stroke-linejoin="round" opacity="0.9" filter="url(#b05)"/>
<path d="M134.8 277.6 L138.0 280.2 L141.2 283.1" fill="none" stroke="#f2e41c" stroke-width="2.6" stroke-linecap="round" stroke-linejoin="round" opacity="1" filter="url(#b05)"/>
<path d="M137.4 282.1 L140.7 284.8" fill="none" stroke="#b4c860" stroke-width="1.4" stroke-linecap="round" stroke-linejoin="round" opacity="0.9" filter="url(#b05)"/>
<path d="M138.1 275.8 L144.0 281.2 L148.9 287.1 L152.1 294.1" fill="none" stroke="#6cc088" stroke-width="2.4" stroke-linecap="round" stroke-linejoin="round" opacity="0.95" filter="url(#b05)"/>
<path d="M136.7 277.4 L142.5 282.6 L147.0 288.2 L150.1 294.9" fill="none" stroke="#e8dc28" stroke-width="1.2" stroke-linecap="round" stroke-linejoin="round" opacity="1" stroke-dasharray="5 2"/>
<path d="M145.4 280.1 L150.3 286.2 L153.6 293.3" fill="none" stroke="#f4d02c" stroke-width="1.1" stroke-linecap="round" stroke-linejoin="round" opacity="1" stroke-dasharray="6 1.5"/>
<path d="M135.5 278.7 L141.2 283.8 L145.9 289.5" fill="none" stroke="#38b8b0" stroke-width="1.0" stroke-linecap="round" stroke-linejoin="round" opacity="0.9"/>
<path d="M151.9 294.1 L154.1 302.2 L156.3 311.2 L158.4 318.2" fill="none" stroke="#58c098" stroke-width="4.2" stroke-linecap="round" stroke-linejoin="round" opacity="0.95" filter="url(#b05)"/>
<path d="M152.1 294.1 L154.3 302.1 L156.5 311.2" fill="none" stroke="#f6c634" stroke-width="2.0" stroke-linecap="round" stroke-linejoin="round" opacity="1" filter="url(#b05)"/>
<path d="M156.3 311.2 L158.4 318.2 L161.6 326.7" fill="none" stroke="#f0e224" stroke-width="1.9" stroke-linecap="round" stroke-linejoin="round" opacity="1" filter="url(#b05)"/>
<path d="M157.8 310.8 L159.9 317.7 L163.1 326.2" fill="none" stroke="#60c090" stroke-width="0.9" stroke-linecap="round" stroke-linejoin="round" opacity="0.9"/>
<path d="M152.5 302.6 L154.6 311.7 L156.8 318.7" fill="none" stroke="#f4e61c" stroke-width="0.9" stroke-linecap="round" stroke-linejoin="round" opacity="1" stroke-dasharray="4 2"/>
<path d="M162.7 327.8 L167.4 332.5 L173.6 336.8" fill="none" stroke="#22b0c0" stroke-width="1.5" stroke-linecap="round" stroke-linejoin="round" opacity="1"/>
<path d="M164.7 331.0 L166.8 334.2 L168.5 337.8" fill="none" stroke="#22b0c0" stroke-width="1.3" stroke-linecap="round" stroke-linejoin="round" opacity="1"/>
<path d="M161.2 325.7 L163.3 328.9" fill="none" stroke="#9cd060" stroke-width="1.6" stroke-linecap="round" stroke-linejoin="round" opacity="1" filter="url(#b05)"/>
</g>
<path d="M119.0 311.8 L121.0 312.4 L122.5 315.0 L123.3 318.2 L122.9 322.5 L121.8 326.7 L120.7 330.6 L119.0 330.8 L118.2 326.7 L117.4 322.5 L117.7 317.1 L118.2 313.9Z" fill="#2f2c8a"/>
<circle cx="117.9" cy="334.8" r=".8" fill="#2f2c8a"/>
<path d="M52.9 322.0 L56.5 321.6 L59.0 324.1 L61.3 327.4 L62.6 331.4 L63.4 335.5 L63.1 338.6 L48.4 338.6 L48.0 335.5 L49.6 332.6 L50.9 329.8 L50.4 327.0 L52.0 324.1Z M51.3 326.1 L52.9 325.8 L55.3 329.4 L56.5 332.6 L54.9 332.3 L52.9 329.4Z M56.5 327.4 L57.7 327.0 L59.0 330.6 L60.6 334.8 L59.0 334.8 L57.3 331.0Z M49.2 335.5 L53.3 334.8 L54.9 336.4 L53.6 338.0 L50.0 337.5Z" fill="#fff" fill-rule="evenodd"/>
<path d="M44.8 335.7 L46.2 335.3 L46.9 338.4 L44.1 338.4Z" fill="#fff"/>
<path d="M58.9 320.5 L60.2 320.3 L60.8 321.6 L59.5 322.0Z" fill="#fff"/>
<circle cx="58.6" cy="316.4" r="0.6" fill="#fff" opacity=".85"/>
<circle cx="61.8" cy="319.2" r="0.7" fill="#fff" opacity=".85"/>
<circle cx="73.5" cy="322.0" r="0.6" fill="#fff" opacity=".85"/>
<circle cx="69.5" cy="323.3" r="0.5" fill="#fff" opacity=".85"/>
<circle cx="62.1" cy="324.9" r="0.6" fill="#fff" opacity=".85"/>
<circle cx="67.0" cy="333.9" r="0.5" fill="#fff" opacity=".85"/>
<circle cx="67.0" cy="337.1" r="0.5" fill="#fff" opacity=".85"/>
<circle cx="49.1" cy="319.7" r="0.5" fill="#fff" opacity=".85"/>
<circle cx="65.1" cy="328.5" r="0.5" fill="#fff" opacity=".85"/>
<circle cx="110.1" cy="239.1" r="0.7" fill="#6a70d0" opacity=".7"/>
<circle cx="111.2" cy="243.4" r="0.7" fill="#6a70d0" opacity=".7"/>
<circle cx="109.4" cy="246.0" r="0.5" fill="#6a70d0" opacity=".7"/>
<circle cx="112.8" cy="237.5" r="0.5" fill="#6a70d0" opacity=".7"/>
<circle cx="142.8" cy="216.7" r="0.5" fill="#6a70d0" opacity=".7"/>
<circle cx="158.8" cy="222.0" r="0.5" fill="#6a70d0" opacity=".7"/>
<circle cx="165.3" cy="237.0" r="0.5" fill="#6a70d0" opacity=".7"/>
<circle cx="169.5" cy="246.6" r="0.7" fill="#6a70d0" opacity=".7"/>
<circle cx="163.1" cy="244.4" r="0.5" fill="#6a70d0" opacity=".7"/>
<circle cx="131.0" cy="227.3" r="0.4" fill="#6a70d0" opacity=".7"/>
<circle cx="138.5" cy="289.3" r="0.5" fill="#6a70d0" opacity=".7"/>
<circle cx="128.9" cy="303.2" r="0.5" fill="#6a70d0" opacity=".7"/>
<circle cx="134.2" cy="316.1" r="0.5" fill="#6a70d0" opacity=".7"/>
<circle cx="143.9" cy="326.7" r="0.5" fill="#6a70d0" opacity=".7"/>
<circle cx="126.7" cy="284.0" r="0.4" fill="#6a70d0" opacity=".7"/>
<circle cx="159.9" cy="300.0" r="0.5" fill="#6a70d0" opacity=".7"/>
<circle cx="163.1" cy="292.5" r="0.4" fill="#6a70d0" opacity=".7"/>
<circle cx="150.3" cy="268.0" r="0.4" fill="#6a70d0" opacity=".7"/>
<circle cx="156.7" cy="254.1" r="0.4" fill="#6a70d0" opacity=".7"/>
</g>
<line x1="69.5" y1="208.1" x2="69.5" y2="338.5" class="gl"/>
<line x1="99.9" y1="208.1" x2="99.9" y2="338.5" class="gl"/>
<line x1="130.4" y1="208.1" x2="130.4" y2="338.5" class="gl"/>
<line x1="160.8" y1="208.1" x2="160.8" y2="338.5" class="gl"/>
<line x1="37.9" y1="234.2" x2="176.4" y2="234.2" class="gl"/>
<line x1="37.9" y1="260.4" x2="176.4" y2="260.4" class="gl"/>
<line x1="37.9" y1="286.5" x2="176.4" y2="286.5" class="gl"/>
<line x1="37.9" y1="312.6" x2="176.4" y2="312.6" class="gl"/>
<path d="M72.0 259.2 L115.6 257.5 L127.6 262.9 L152.7 289.1 L155.4 307.6" fill="none" stroke="#d8102e" stroke-width="1.3" stroke-linejoin="round"/>
<rect x="37.9" y="208.1" width="138.5" height="130.4" fill="none" stroke="#8c8c8c" stroke-width=".9"/>
<line x1="38.1" y1="207.6" x2="38.1" y2="339.3" stroke="#7c7c7c" stroke-width="1.4"/>
<line x1="37.0" y1="338.8" x2="176.9" y2="338.8" stroke="#3a3a3a" stroke-width="1.2"/>
<text x="37.7" y="210.5" class="tk" font-size="6.6" text-anchor="end">46°N</text>
<text x="35.3" y="236.6" class="tk" font-size="6.6" text-anchor="end">48'</text>
<text x="35.3" y="262.8" class="tk" font-size="6.6" text-anchor="end">36'</text>
<text x="35.3" y="288.9" class="tk" font-size="6.6" text-anchor="end">24'</text>
<text x="35.3" y="315.0" class="tk" font-size="6.6" text-anchor="end">12'</text>
<text x="37.7" y="341.2" class="tk" font-size="6.6" text-anchor="end">45°N</text>
<text x="39.7" y="346.7" class="tk" font-size="7.2" text-anchor="middle">2°W</text>
<text x="68.5" y="345.1" class="tk" font-size="6.6" text-anchor="middle">40'</text>
<text x="98.9" y="345.1" class="tk" font-size="6.6" text-anchor="middle">20'</text>
<text x="132.7" y="345.1" class="tk" font-size="6.6" text-anchor="middle">1°W</text>
<text x="159.8" y="345.1" class="tk" font-size="6.6" text-anchor="middle">40'</text>
</g>
<text x="134.4" y="81.0" class="lab" text-anchor="middle">(a)</text>
<text x="308.0" y="80.3" class="lab" text-anchor="middle">(b)</text>
<text x="485.0" y="81.6" class="lab" text-anchor="middle">(c)</text>
<text x="147.0" y="254.0" class="lab" text-anchor="middle">(d)</text>
<g id="colorbar">
<text x="518.2" y="11.8" font-size="10.4" text-anchor="middle" fill="#111" stroke="#111" stroke-width=".35">SPM</text>
<text x="522.6" y="25.6" font-size="10.6" text-anchor="middle" fill="#111" stroke="#111" stroke-width=".3">(g·m<tspan font-size="6.6" dy="-3.4">-3</tspan><tspan dy="3.4">)</tspan></text>
<rect x="518.5" y="34.6" width="9.5" height="122.8" fill="url(#parula)" stroke="#777" stroke-width=".5"/>
<text x="530" y="159.1" class="cb">0</text>
<text x="530" y="146.8" class="cb">100</text>
<text x="530" y="134.5" class="cb">200</text>
<text x="530" y="122.3" class="cb">300</text>
<text x="530" y="110.0" class="cb">400</text>
<text x="530" y="97.7" class="cb">500</text>
<text x="530" y="85.4" class="cb">600</text>
<text x="530" y="73.1" class="cb">700</text>
<text x="530" y="60.9" class="cb">800</text>
<text x="530" y="48.6" class="cb">900</text>
<text x="530" y="36.3" class="cb">1000</text>
</g>
<g id="scalebar">
<rect x="37.5" y="358.4" width="17.6" height="5.8" fill="#000"/>
<rect x="55.1" y="358.8" width="18.2" height="5" fill="#fff" stroke="#000" stroke-width=".8"/>
<text x="77.8" y="364.6" font-size="9" fill="#111">Kilometers</text>
<text font-weight="bold" font-size="9.4" fill="#111" y="375.8" style="font-family:'Liberation Serif','DejaVu Serif',serif"><tspan x="37">0</tspan><tspan x="53">20</tspan><tspan x="71.2">40</tspan></text>
</g>
<g id="chart">
<rect x="262.0" y="209.9" width="277.8" height="132.7" fill="#fff"/>
<line x1="262.0" y1="209.5" x2="539.8" y2="209.5" class="cg"/>
<line x1="262.0" y1="232.5" x2="539.8" y2="232.5" class="cg"/>
<line x1="262.0" y1="254.5" x2="539.8" y2="254.5" class="cg"/>
<line x1="262.0" y1="276.5" x2="539.8" y2="276.5" class="cg"/>
<line x1="262.0" y1="298.5" x2="539.8" y2="298.5" class="cg"/>
<line x1="262.0" y1="320.5" x2="539.8" y2="320.5" class="cg"/>
<line x1="262.0" y1="342.5" x2="539.8" y2="342.5" class="cg"/>
<line x1="262.5" y1="209.9" x2="262.5" y2="342.6" class="cg"/>
<line x1="299.5" y1="209.9" x2="299.5" y2="342.6" class="cg"/>
<line x1="336.5" y1="209.9" x2="336.5" y2="342.6" class="cg"/>
<line x1="373.5" y1="209.9" x2="373.5" y2="342.6" class="cg"/>
<line x1="410.5" y1="209.9" x2="410.5" y2="342.6" class="cg"/>
<line x1="447.5" y1="209.9" x2="447.5" y2="342.6" class="cg"/>
<line x1="484.5" y1="209.9" x2="484.5" y2="342.6" class="cg"/>
<line x1="521.5" y1="209.9" x2="521.5" y2="342.6" class="cg"/>
<line x1="539.8" y1="209.9" x2="539.8" y2="342.6" class="cg"/>
<line x1="262.0" y1="209.9" x2="262.0" y2="342.6" stroke="#666" stroke-width=".9"/>
<line x1="262.0" y1="342.6" x2="539.8" y2="342.6" stroke="#666" stroke-width=".9"/>
<text x="255.5" y="212.3" class="ax" text-anchor="end">10,000.0</text>
<text x="255.5" y="234.4" class="ax" text-anchor="end">1,000.0</text>
<text x="255.5" y="256.5" class="ax" text-anchor="end">100.0</text>
<text x="255.5" y="278.6" class="ax" text-anchor="end">10.0</text>
<text x="255.5" y="300.8" class="ax" text-anchor="end">1.0</text>
<text x="255.5" y="322.9" class="ax" text-anchor="end">0.1</text>
<text x="255.5" y="345.0" class="ax" text-anchor="end">0.0</text>
<text x="261.2" y="355.0" class="ax" text-anchor="middle">-2</text>
<text x="298.3" y="355.0" class="ax" text-anchor="middle">-1.8</text>
<text x="335.4" y="355.0" class="ax" text-anchor="middle">-1.6</text>
<text x="372.5" y="355.0" class="ax" text-anchor="middle">-1.4</text>
<text x="409.6" y="355.0" class="ax" text-anchor="middle">-1.2</text>
<text x="446.7" y="355.0" class="ax" text-anchor="middle">-1</text>
<text x="483.8" y="355.0" class="ax" text-anchor="middle">-0.8</text>
<text x="520.9" y="355.0" class="ax" text-anchor="middle">-0.6</text>
<text x="382.6" y="366.6" font-size="9.1" font-weight="bold" text-anchor="middle" fill="#111">Longitude</text>
<text transform="translate(231.6 281.7) rotate(-90)" font-size="8.1" font-weight="bold" text-anchor="middle" fill="#111">SPM (g.m<tspan font-size="5.4" dy="-2.6">-3</tspan><tspan dy="2.6">)</tspan></text>
<polyline points="313.7,296.6 314.5,296.7 315.2,298.4 316.0,297.5 316.7,297.8 317.3,296.5 318.0,294.9 318.7,296.7 319.3,296.2 320.0,297.8 320.7,296.5 321.3,296.0 322.0,296.3 322.7,297.2 323.4,295.3 324.1,295.5 324.8,296.0 327.0,287.1 328.3,283.7 329.5,281.8 330.8,280.6 332.0,279.8 333.7,278.7 335.4,278.5 336.6,277.7 337.8,277.1 339.0,276.6 340.8,276.1 342.5,275.7 343.8,275.3 345.0,275.4 346.2,275.4 347.5,275.2 348.8,275.3 350.0,275.0 351.3,274.9 352.6,274.9 353.9,275.1 355.1,274.9 356.4,274.8 357.7,274.9 359.0,274.8 360.4,274.6 361.8,274.7 363.2,274.5 364.6,274.2 366.0,274.2 367.4,274.1 368.8,274.1 370.2,274.0 371.6,273.6 373.0,273.8 375.0,273.1 376.3,273.2 377.7,273.4 379.0,273.0 380.2,272.9 381.5,272.4 382.5,269.7 383.5,272.9 384.8,272.9 386.0,273.2 388.0,272.3 388.9,269.7 389.8,272.6 392.0,273.2 393.3,273.2 394.7,273.4 396.0,273.5 397.3,273.3 398.7,273.4 400.0,273.1 401.2,273.4 402.5,273.4 403.8,273.5 405.0,273.4 406.2,273.2 407.5,273.2 408.8,273.3 410.0,273.0 411.2,273.2 412.5,273.1 413.8,273.0 415.0,273.0 416.2,273.4 417.5,273.0 418.8,273.1 420.0,273.1 421.2,273.4 422.5,273.0 423.8,273.2 425.0,273.3 426.2,273.4 427.5,273.4 428.8,273.4 430.0,273.2 431.2,273.2 432.5,273.2 433.8,273.5 435.0,273.5 436.2,273.0 437.5,273.0 438.8,272.9 440.0,272.8 441.2,272.9 442.5,272.8 443.8,272.6 445.0,272.4 446.2,272.5 447.5,272.5 448.8,272.6 450.0,272.7 451.2,272.6 452.5,272.5 453.8,272.5 455.0,272.5 456.3,272.1 457.5,272.5 458.8,272.4 460.1,272.4 461.3,272.3 462.6,272.0 464.0,271.8 465.3,271.5 466.6,271.5 468.0,271.0 469.3,270.8 470.5,270.7 471.8,270.5 473.2,270.9 474.6,270.9 476.0,271.2 477.2,271.3 478.5,271.3 479.8,271.5 481.0,271.4 482.4,271.2 483.2,269.8 484.1,271.2 485.6,271.5 487.0,271.7 488.5,271.4 490.0,271.0 491.5,271.7 493.0,272.1 494.4,271.6 495.7,271.4" fill="none" stroke="#12a844" stroke-width="1.10" stroke-linejoin="round" stroke-linecap="round"/>
<polyline points="313.7,294.8 314.4,295.8 315.0,298.0 315.5,297.6 316.0,296.4 316.5,296.9 317.0,296.6 317.5,297.8 318.0,301.7 318.5,299.1 319.0,296.6 319.5,296.1 320.0,295.4 320.5,297.4 321.0,299.2 321.5,297.9 322.0,296.5 322.5,294.4 323.1,294.7 323.6,294.1 324.2,295.7 324.8,295.0 326.0,290.0 327.1,285.5 328.3,280.4 329.5,277.7 332.0,276.1 333.7,275.6 335.4,274.9 338.0,273.7 339.6,273.1 341.3,272.5 343.0,270.9 344.8,270.0 346.5,269.9 348.3,269.7 350.0,269.6 351.7,269.8 353.3,269.9 355.0,270.2 357.0,270.2 359.0,270.0 361.0,268.8 362.5,267.9 364.2,267.6 366.0,267.1 367.6,266.9 369.2,266.6 370.8,266.4 373.0,265.9 375.0,265.3 375.4,262.2 377.0,262.0 378.6,261.8 380.2,261.7 381.8,261.6 383.4,261.2 384.9,261.1 386.5,260.9 388.0,260.5 389.5,260.2 391.1,259.8 392.6,259.4 394.8,259.3 397.0,258.8 398.6,258.9 400.2,258.9 401.8,258.6 403.4,258.6 405.1,258.8 406.7,258.7 408.4,258.5 410.0,258.6 411.7,258.5 413.3,258.8 415.0,258.8 416.7,258.5 418.3,258.7 420.0,258.8 421.5,258.7 423.0,258.5 424.5,258.6 426.0,258.4 427.5,258.4 429.0,258.7 430.5,258.6 432.0,258.5 433.5,258.7 435.0,258.5 436.7,258.5 438.3,258.4 440.0,258.1 441.7,258.0 443.3,257.9 445.0,257.8 446.7,257.9 448.3,257.7 450.0,257.7 451.7,257.5 453.3,257.7 455.0,257.4 456.7,257.4 458.3,257.4 460.0,257.5 461.7,257.3 463.3,257.4 465.0,257.2 466.7,257.1 468.3,257.1 470.0,256.8 471.7,256.9 473.3,256.7 475.0,256.6 476.7,256.9 478.3,256.5 480.0,256.6 481.7,256.6 483.3,256.5 485.0,256.3 486.5,256.4 488.1,256.3 489.6,256.3 491.1,256.0 492.6,256.1 494.2,256.0 495.7,256.0" fill="none" stroke="#f41414" stroke-width="1.10" stroke-linejoin="round" stroke-linecap="round"/>
<polyline points="313.7,296.8 314.5,303.2 315.2,296.0 316.0,318.0 316.6,300.2 317.2,330.3 317.9,305.0 318.6,322.1 319.2,299.0 320.0,312.0 320.6,298.1 321.3,321.0 321.9,302.0 322.6,319.0 323.2,300.3 323.9,317.1 324.4,298.3 325.2,308.3 325.8,295.8 326.6,300.0 327.8,295.1 328.6,291.2 329.5,292.7 330.7,287.4 331.5,293.0 332.3,289.7 333.2,295.3 334.0,291.2 335.0,294.6 336.0,291.2 337.0,296.3 337.8,292.8 338.9,303.2 339.8,294.1 340.8,296.8 341.8,291.8 343.0,294.3 344.0,289.3 345.0,291.8 346.0,288.4 347.0,291.5 348.0,287.8 349.0,290.7 349.9,288.3 350.7,286.6 351.4,288.1 352.0,289.4 353.0,285.8 354.2,288.9 355.4,285.6 356.0,286.4 356.6,288.0 357.8,284.6 359.0,286.1 360.2,283.1 361.4,286.1 362.5,282.0 363.7,280.4 364.4,282.2 365.0,283.2 366.2,280.9 367.4,282.7 368.0,281.8 368.6,280.7 369.8,283.2 370.8,281.2 372.0,283.7 372.6,281.9 373.6,285.3 374.6,279.7 375.1,274.9 375.8,269.8 377.0,269.0 377.7,268.7 378.4,268.7 379.0,267.9 379.7,267.5 380.6,270.1 381.6,264.9 382.5,254.1 383.3,262.3 384.3,267.9 385.0,267.4 385.6,266.2 386.3,268.3 387.0,269.3 388.2,266.3 389.0,258.0 389.5,250.5 390.1,259.0 390.7,266.3 391.8,264.8 392.6,263.8 393.5,263.2 394.4,261.3 395.3,259.2 396.5,255.3 397.1,253.2 397.8,251.3 399.0,248.4 399.8,250.4 400.8,253.7 401.8,255.7 402.6,256.5 403.5,257.0 404.2,257.6 404.8,257.8 405.5,258.4 406.1,258.6 406.7,259.4 407.3,259.5 408.0,259.2 408.6,259.2 409.3,259.4 410.0,258.7 410.7,259.0 411.4,258.6 412.1,258.4 412.8,258.4 413.4,258.2 414.1,258.3 414.7,258.5 415.4,258.7 416.0,258.3 416.7,258.5 417.4,258.3 418.1,258.1 418.7,257.9 419.4,257.7 420.1,257.4 420.8,257.2 421.6,257.0 422.3,257.3 423.0,256.7 423.7,256.4 424.4,256.1 425.0,256.3 425.7,256.1 426.4,255.9 427.0,255.6 427.7,255.5 428.3,255.5 429.0,255.6 429.7,255.2 430.3,255.3 431.0,255.1 431.7,255.5 432.3,255.3 433.0,254.9 434.0,253.6 435.0,255.5 435.7,255.2 436.4,255.3 437.1,255.2 437.8,255.6 438.5,255.8 439.2,255.4 439.8,254.8 440.5,254.6 441.4,253.5 442.2,252.9 442.8,252.0 443.4,251.5 444.0,250.8 445.0,249.4 445.5,248.5 446.0,247.6 446.5,247.0 447.0,246.5 447.5,245.8 448.0,245.3 448.5,244.7 449.0,244.1 449.6,243.6 450.1,242.8 450.6,242.1 451.3,242.0 452.0,241.3 452.7,240.9 453.4,240.4 454.0,239.3 454.6,238.7 455.1,238.1 455.6,237.3 456.3,240.6 457.0,246.0 457.8,246.5 458.5,248.6 459.1,248.2 459.6,247.9 460.1,247.4 460.7,246.9 461.6,248.0 462.1,248.0 462.6,247.8 463.0,253.1 463.5,259.5 464.4,261.6 465.1,261.1 465.8,260.5 466.4,260.7 467.0,261.3 467.6,260.6 468.1,260.1 468.8,260.3 469.5,260.5 470.1,260.0 470.6,259.4 471.2,259.2 471.8,258.8 472.4,259.0 472.9,259.3 473.5,259.7 474.1,259.3 474.8,259.5 475.4,259.2 476.2,252.8 476.9,246.7 477.6,242.1 478.2,239.3 479.0,241.5 479.5,240.5 480.2,235.0 481.0,232.0 481.8,231.6 482.4,233.1 483.0,243.1 483.7,252.3 484.4,249.1 485.0,246.6 485.9,237.9 486.8,231.9 487.3,231.1 487.8,229.9 488.4,229.7 488.9,229.1 489.5,230.8 490.1,233.8 490.6,238.1 491.0,241.4 491.8,239.1 492.4,238.4 493.1,241.0 493.8,242.2 494.3,240.0 494.7,237.4 495.2,233.2 495.7,230.2" fill="none" stroke="#9038e0" stroke-width="1.15" stroke-linejoin="round" stroke-linecap="round"/>
<polyline points="313.7,294.5 314.4,295.5 315.0,297.7 315.5,297.3 316.0,296.1 316.5,296.6 317.0,296.3 317.5,297.5 318.0,301.4 318.5,298.8 319.0,296.3 319.5,295.8 320.0,295.1 320.5,297.1 321.0,298.9 321.5,297.6 322.0,296.2 322.5,294.1 323.1,294.4 323.6,293.8 324.2,295.4 324.8,294.7 326.0,289.7 327.1,285.1 328.3,280.2 329.5,277.5 332.0,275.7 335.4,274.5 338.0,273.3 341.3,272.1 343.0,270.7 344.8,269.7 350.0,269.5 355.0,269.8 359.0,269.7 361.0,268.3 362.5,267.4 366.0,266.9 370.8,266.2 373.0,265.7 375.0,265.0 375.4,261.7 375.4,262.0 376.3,261.8 377.0,264.5 377.8,266.5 378.6,262.4 379.7,266.8 380.6,268.0 381.6,263.0 382.5,254.0 383.3,261.0 384.3,266.5 385.2,261.5 386.2,266.0 387.0,268.6 388.2,264.0 389.0,257.0 389.5,250.3 390.1,258.5 390.7,265.2 391.8,264.4 393.5,263.0 394.4,261.3 395.3,259.3 396.5,255.3 397.8,251.3 399.0,248.3 399.8,250.3 400.8,253.3 401.8,255.6 403.5,257.0 405.5,258.4 407.3,259.3 410.0,258.8 412.8,258.0 416.0,258.2 420.1,257.5 423.0,256.7 425.7,255.6 429.0,255.4 433.0,254.7 434.0,253.6 435.0,255.0 438.5,255.6 440.5,254.4 442.2,252.9 444.0,250.6 445.0,249.4 446.0,247.5 448.0,245.0 450.6,242.0 452.0,241.2 453.4,240.1 454.6,238.4 455.6,237.0 456.3,240.3 457.0,245.7 457.8,246.4 458.5,248.4 459.6,247.6 460.7,246.6 461.6,247.8 462.6,247.5 463.0,252.8 463.5,259.4 464.4,261.6 465.8,260.4 467.0,261.0 468.1,259.8 469.5,260.2 471.8,258.5 473.5,259.4 475.4,259.1 476.2,252.8 476.9,246.6 477.6,241.8 478.2,239.2 479.0,241.2 479.5,240.1 480.2,234.8 481.0,231.8 481.8,231.4 482.4,232.8 483.0,242.8 483.7,252.1 484.4,248.8 485.0,246.6 485.9,237.8 486.8,231.8 487.8,229.8 488.9,229.1 489.5,230.8 490.1,233.7 490.6,237.8 491.0,241.1 491.8,238.8 492.4,238.3 493.1,240.8 493.8,242.0 494.3,239.8 494.7,237.4 495.2,232.8 495.7,230.0" fill="none" stroke="#160c28" stroke-width="0.80" stroke-linejoin="round" stroke-linecap="round"/>
<line x1="244.6" y1="197.7" x2="259.5" y2="197.7" stroke="#14a045" stroke-width="1.9"/>
<text x="262.5" y="200.7" class="lg" textLength="45.7" lengthAdjust="spacing">SPM Green</text>
<line x1="310.4" y1="197.7" x2="327.0" y2="197.7" stroke="#d01818" stroke-width="1.9"/>
<text x="334.0" y="200.7" class="lg" textLength="37.1" lengthAdjust="spacing">SPM Red</text>
<line x1="377.4" y1="197.7" x2="392.6" y2="197.7" stroke="#7a28c8" stroke-width="1.9"/>
<text x="398.3" y="200.7" class="lg" textLength="36.8" lengthAdjust="spacing">SPM NIR</text>
<line x1="440.8" y1="197.7" x2="454.6" y2="197.7" stroke="#000" stroke-width="1.9"/>
<text x="460.3" y="200.7" class="lg" textLength="86.6" lengthAdjust="spacing">SPM Multi-conditional</text>
<text x="497.5" y="310.4" class="lab" font-size="12" text-anchor="middle">(e)</text>
</g>
</svg></body></html>
